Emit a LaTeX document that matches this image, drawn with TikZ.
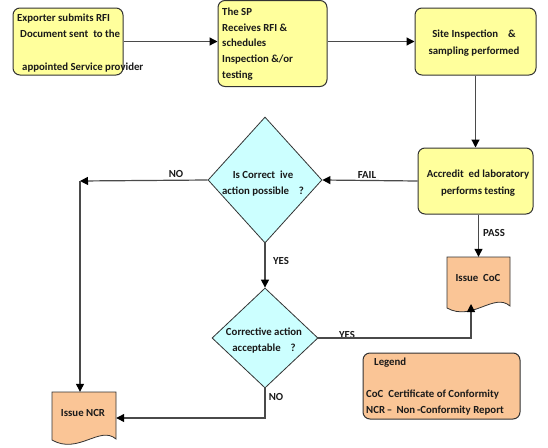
\documentclass[tikz,border=0pt]{standalone}
\usepackage{fontspec}
\setmainfont{Carlito}
\usetikzlibrary{shapes.geometric,arrows.meta}
\definecolor{boxyellow}{HTML}{FFFF9C}
\definecolor{boxcyan}{HTML}{CCFFFF}
\definecolor{boxorange}{HTML}{FAC596}
\definecolor{bordc}{HTML}{333333}
\definecolor{linec}{HTML}{4A4A4A}
\definecolor{txtc}{HTML}{1A1A1A}
\tikzset{
  procbox/.style={draw=bordc, fill=boxyellow, rounded corners=7pt, line width=1pt, inner sep=0pt},
  decbox/.style={diamond, draw=bordc, fill=boxcyan, line width=0.8pt, inner sep=0pt},
  docbox/.style={rectangle, inner sep=0pt},
  docline/.style={draw=bordc, fill=boxorange, line width=0.8pt},
  legbox/.style={draw=bordc, fill=boxorange, rounded corners=7pt, line width=1pt, inner sep=0pt},
  lbl/.style={font=\bfseries\fontsize{10.8}{12}\selectfont, inner sep=0pt, text=txtc},
  conn/.style={draw=linec, line width=1.2pt},
  arr/.style={conn, -{Triangle[length=8pt,width=8pt,color=black]}}
}
\begin{document}
\begin{tikzpicture}[x=1pt,y=-1pt]
\useasboundingbox (0,0) rectangle (548,447);
\fill[white] (0,0) rectangle (548,447);

% process boxes
\node[procbox, minimum width=110pt, minimum height=67pt] (b1) at (68,41.5) {};
\node[procbox, minimum width=109pt, minimum height=86pt] (b2) at (272.5,43.5) {};
\node[procbox, minimum width=121pt, minimum height=67pt] (b3) at (475.5,41.5) {};
\node[procbox, minimum width=115pt, minimum height=66pt] (lab) at (475.5,181) {};

% decisions
\node[decbox, minimum width=114pt, minimum height=126pt] (d1) at (265,180) {};
\node[decbox, minimum width=106pt, minimum height=100pt] (d2) at (265,338) {};

% documents
\node[docbox, minimum width=63pt, minimum height=51pt] (coc) at (478.5,282.5) {};
\draw[docline] (447,257) -- (510,257) -- (510,306) .. controls (494,292) and (472,322) .. (447,308) -- cycle;
\node[docbox, minimum width=64pt, minimum height=48pt] (ncr) at (84,416) {};
\draw[docline] (52,392) -- (116,392) -- (116,439) .. controls (100,425) and (78,455) .. (52,440) -- cycle;

% legend
\node[legbox, minimum width=157pt, minimum height=66pt] (leg) at (441.5,386) {};

% texts
\node[lbl, anchor=west, align=left, font=\bfseries\fontsize{10.8}{16.6}\selectfont] (t1) at (17,43)
  {Exporter submits RFI\\\hspace{3pt}Document sent \ to the\\ \\\hspace{5pt}appointed Service provider};
\node[lbl, anchor=west, align=left, font=\bfseries\fontsize{10.8}{15.7}\selectfont] (t2) at (222,44)
  {The SP\\Receives RFI \&\\schedules\\Inspection \&/or\\testing};
\node[lbl, align=center, font=\bfseries\fontsize{10.8}{17}\selectfont] (t3) at (474,43)
  {Site Inspection \ \ \ \&\\sampling performed};
\node[lbl, align=center, font=\bfseries\fontsize{10.8}{17}\selectfont] (t4) at (478,183)
  {Accredit \ ed laboratory\\performs testing};
\node[lbl, align=center, font=\bfseries\fontsize{10.8}{16}\selectfont] (t5) at (263,183.5)
  {Is Correct \ ive\\action possible \ \ \ ?};
\node[lbl, align=center, font=\bfseries\fontsize{10.8}{16}\selectfont] (t6) at (264,340.5)
  {Corrective action\\acceptable \ \ \ ?};
\node[lbl] (t7) at (478,278) {Issue \ CoC};
\node[lbl] (t8) at (83,413) {Issue NCR};
\node[lbl, anchor=west] (t9) at (374,363) {Legend};
\node[lbl, anchor=west] (t10) at (366,395) {CoC \ Certificate of Conformity};
\node[lbl, anchor=west] (t11) at (366,411) {NCR\,–\, Non\,-Conformity Report};

% connector labels
\node[lbl] (lfail) at (367,175) {FAIL};
\node[lbl] (lno1) at (176,174) {NO};
\node[lbl] (lyes1) at (281,261) {YES};
\node[lbl] (lpass) at (494,233) {PASS};
\node[lbl] (lyes2) at (347,335) {YES};
\node[lbl] (lno2) at (276,397) {NO};

% helper coordinates
\coordinate (nocorner) at (80,181);
\coordinate (cocin) at (471,304);
\coordinate (yescorner) at (471,338);
\coordinate (nocorner2) at (265,418);

% connectors
\draw[arr] (b1.east) -- (b2.west |- b1.east);
\draw[arr] (b2.east |- b3.west) -- (b3.west);
\draw[arr] (b3.south) -- (lab.north);
\draw[arr] (lab.west) -- (d1.east);
\draw[arr] (d1.west) -- (nocorner);
\draw[arr] (nocorner) -- (nocorner |- ncr.north);
\draw[arr] (d1.south) -- (d2.north);
\draw[arr] (coc.north |- lab.south) -- (coc.north);
\draw[arr] (d2.east) -- (yescorner) -- (cocin);
\draw[arr] (d2.south) -- (nocorner2) -- (nocorner2 -| ncr.east);
\end{tikzpicture}
\end{document}
